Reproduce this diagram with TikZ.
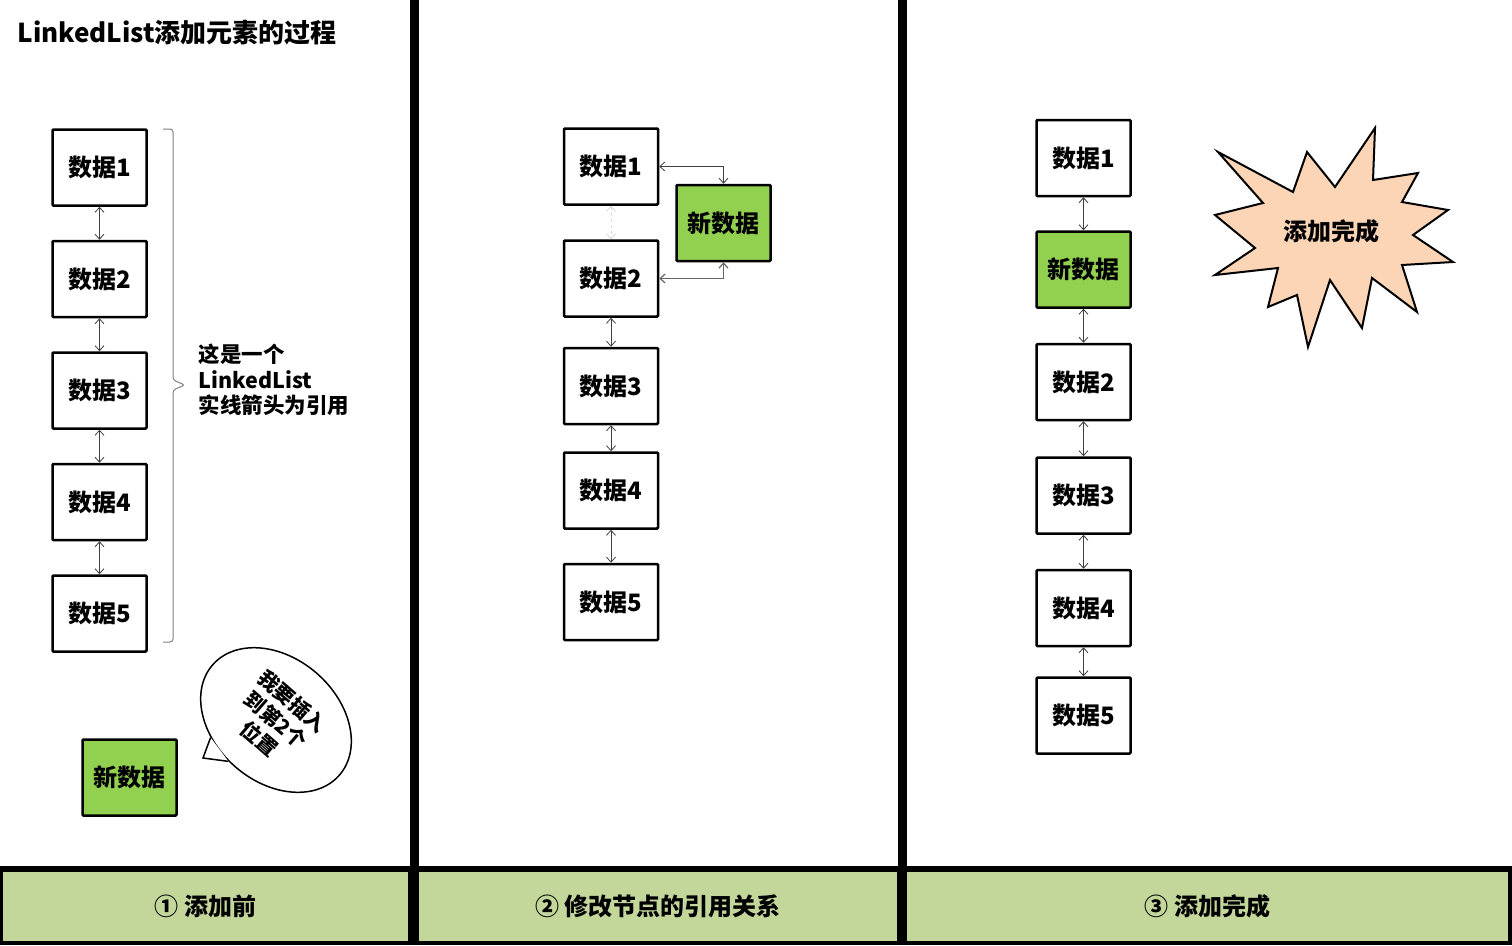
\documentclass[tikz,border=0pt]{standalone}
\usepackage{fontspec}
\setmainfont{Noto Sans CJK SC}
\usepackage{tikz}
\usetikzlibrary{arrows.meta}
\usetikzlibrary{shapes.geometric,positioning}
\definecolor{newGreen}{HTML}{92D050}
\definecolor{barGreen}{HTML}{C4D79B}
\definecolor{boomPeach}{HTML}{FBD5B5}
\tikzset{>={Straight Barb[length=5pt,width=9pt]}}
\tikzset{list-node/.style={draw, line width=2.5pt, rounded corners=1pt, minimum width=94pt, minimum height=76pt, inner sep=0, font=\bfseries\fontsize{24}{28}\selectfont}}
\tikzset{new-node/.style={list-node, fill=newGreen}}
\tikzset{ref-line/.style={<->, line width=0.8pt, black!75}}
\tikzset{bar-cell/.style={fill=barGreen, inner sep=0, minimum height=69pt, font=\bfseries\fontsize{24}{28}\selectfont}}

\begin{document}
\begin{tikzpicture}[x=1pt, y=-1pt]
    \useasboundingbox (0,0) rectangle (1512,945);
    \fill[black] (0,866) rectangle (1512,945);
    \fill[black] (409.5,0) rectangle (418.5,866);
    \fill[black] (897.5,0) rectangle (906.5,866);

    \node[anchor=west, font=\bfseries\fontsize{26}{30}\selectfont] (title) at (14,33) {LinkedList添加元素的过程};

    % before
    \node[list-node] (a1) at (99.5,167.5) {数据1};
    \node[list-node, below=33pt of a1] (a2) {数据2};
    \node[list-node, below=33pt of a2] (a3) {数据3};
    \node[list-node, below=33pt of a3] (a4) {数据4};
    \node[list-node, below=33pt of a4] (a5) {数据5};
    \node[new-node] (an) at (129.5,777.5) {新数据};
    \draw[ref-line] (a1) -- (a2);
    \draw[ref-line] (a2) -- (a3);
    \draw[ref-line] (a3) -- (a4);
    \draw[ref-line] (a4) -- (a5);
    \draw[gray, line width=1pt, rounded corners=3pt] (163,129) -- (173,129) -- (173,380) -- (185,385) -- (173,390) -- (173,642) -- (163,642);
    \node[anchor=west, align=left, font=\bfseries\fontsize{21.5}{25.5}\selectfont] (note) at (195,380) {这是一个\\LinkedList\\实线箭头为引用};
    \node[draw, ellipse, line width=1.5pt, fill=white, rotate=-41, minimum width=168pt, minimum height=124pt, inner sep=0, align=center, font=\bfseries\fontsize{20.5}{25}\selectfont] (bubble) at (276,720) {我要插入\\到第2个\\位置};
    \draw[line width=1.5pt, fill=white] (bubble.236) -- (203,758) -- (bubble.262);

    % relink
    \node[list-node] (m1) at (611,166.5) {数据1};
    \node[list-node] (m2) at (611,278.5) {数据2};
    \node[list-node, below=29pt of m2] (m3) {数据3};
    \node[list-node, below=26pt of m3] (m4) {数据4};
    \node[list-node, below=33pt of m4] (m5) {数据5};
    \node[new-node] (mn) at (723.5,223) {新数据};
    \draw[ref-line, black!15, dashed] (m1) -- (m2);
    \draw[ref-line] (m2) -- (m3);
    \draw[ref-line] (m3) -- (m4);
    \draw[ref-line] (m4) -- (m5);
    \draw[ref-line] (m1.east) -| (mn.north);
    \draw[ref-line, line width=1.2pt, black!60] (m2.east) -| (mn.south);

    % done
    \node[list-node] (r1) at (1083.5,158) {数据1};
    \node[new-node, below=33pt of r1] (rn) {新数据};
    \node[list-node, below=34pt of rn] (r2) {数据2};
    \node[list-node, below=35pt of r2] (r3) {数据3};
    \node[list-node, below=34pt of r3] (r4) {数据4};
    \node[list-node, below=29pt of r4] (r5) {数据5};
    \draw[ref-line] (r1) -- (rn);
    \draw[ref-line] (rn) -- (r2);
    \draw[ref-line] (r2) -- (r3);
    \draw[ref-line] (r3) -- (r4);
    \draw[ref-line] (r4) -- (r5);
    \draw[line width=2pt, fill=boomPeach, line join=miter] (1218,152) -- (1293,192) -- (1307,152) -- (1335,187) -- (1375,128) -- (1373,180) -- (1418,173) -- (1402,202) -- (1448,210) -- (1413,235) -- (1453,262) -- (1402,265) -- (1417,312) -- (1372,278) -- (1362,328) -- (1330,280) -- (1308,347) -- (1297,295) -- (1268,307) -- (1278,268) -- (1215,275) -- (1255,248) -- (1215,215) -- (1263,203) -- cycle;
    \node[font=\bfseries\fontsize{24}{28}\selectfont] (boom) at (1331,231) {添加完成};

    % steps
    \node[bar-cell, minimum width=405pt] (cell1) at (205.5,906.5) {① 添加前};
    \node[bar-cell, minimum width=478pt] (cell2) at (658,906.5) {② 修改节点的引用关系};
    \node[bar-cell, minimum width=601pt] (cell3) at (1207.5,906.5) {③ 添加完成};
\end{tikzpicture}
\end{document}
